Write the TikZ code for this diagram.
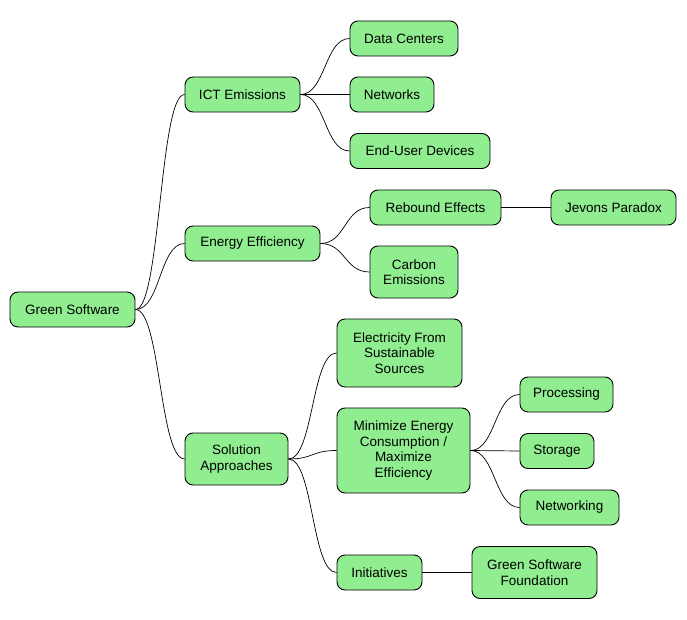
\documentclass[tikz,border=0pt]{standalone}
\usepackage{fontspec}
\setmainfont{Liberation Sans}
\begin{document}
\begin{tikzpicture}[x=1pt,y=-1pt,
  box/.style={draw=black,line width=0.9pt,fill=green!45!lime!30!white,fill=mint,rounded corners=8pt,align=center,inner sep=0pt,font=\fontsize{13.5}{15.5}\selectfont},
  link/.style={line width=0.7pt}]
\definecolor{mint}{HTML}{90EE90}
\useasboundingbox (0,0) rectangle (687,620);
\newcommand{\bx}[6]{\node[box,minimum width=#4,minimum height=#5] (#1) at (#2,#3) {#6};}
\bx{gs}{72.5}{309.5}{125}{35}{Green Software}
\bx{ict}{242.5}{94.5}{115}{35}{ICT Emissions}
\bx{ee}{252.5}{243.5}{135}{35}{Energy Efficiency}
\bx{sa}{236.5}{459}{103}{52}{Solution\\Approaches}
\bx{dc}{404}{38.5}{108}{35}{Data Centers}
\bx{nw}{392}{94.5}{84}{35}{Networks}
\bx{eu}{420}{151}{140}{35}{End-User Devices}
\bx{re}{435.5}{207.5}{131}{35}{Rebound Effects}
\bx{jp}{613.5}{207.5}{125}{35}{Jevons Paradox}
\bx{ce}{414}{272}{88}{52}{Carbon\\Emissions}
\bx{el}{399.5}{353}{125}{68}{Electricity From\\Sustainable\\Sources}
\bx{mi}{403.5}{450.5}{133}{85}{Minimize Energy\\Consumption /\\Maximize\\Efficiency}
\bx{pr}{566.5}{394.5}{93}{35}{Processing}
\bx{st}{557}{451}{74}{35}{Storage}
\bx{nk}{569.5}{507.5}{99}{35}{Networking}
\bx{in}{379.5}{572.5}{85}{35}{Initiatives}
\bx{gf}{534.5}{572.5}{125}{52}{Green Software\\Foundation}
\foreach \a/\b in {gs/ict,gs/ee,gs/sa,ict/dc,ict/nw,ict/eu,ee/re,ee/ce,re/jp,sa/el,sa/mi,sa/in,mi/pr,mi/st,mi/nk,in/gf}
  \draw[link] (\a.east) .. controls +(25,0) and +(-25,0) .. (\b.west);
\end{tikzpicture}
\end{document}
